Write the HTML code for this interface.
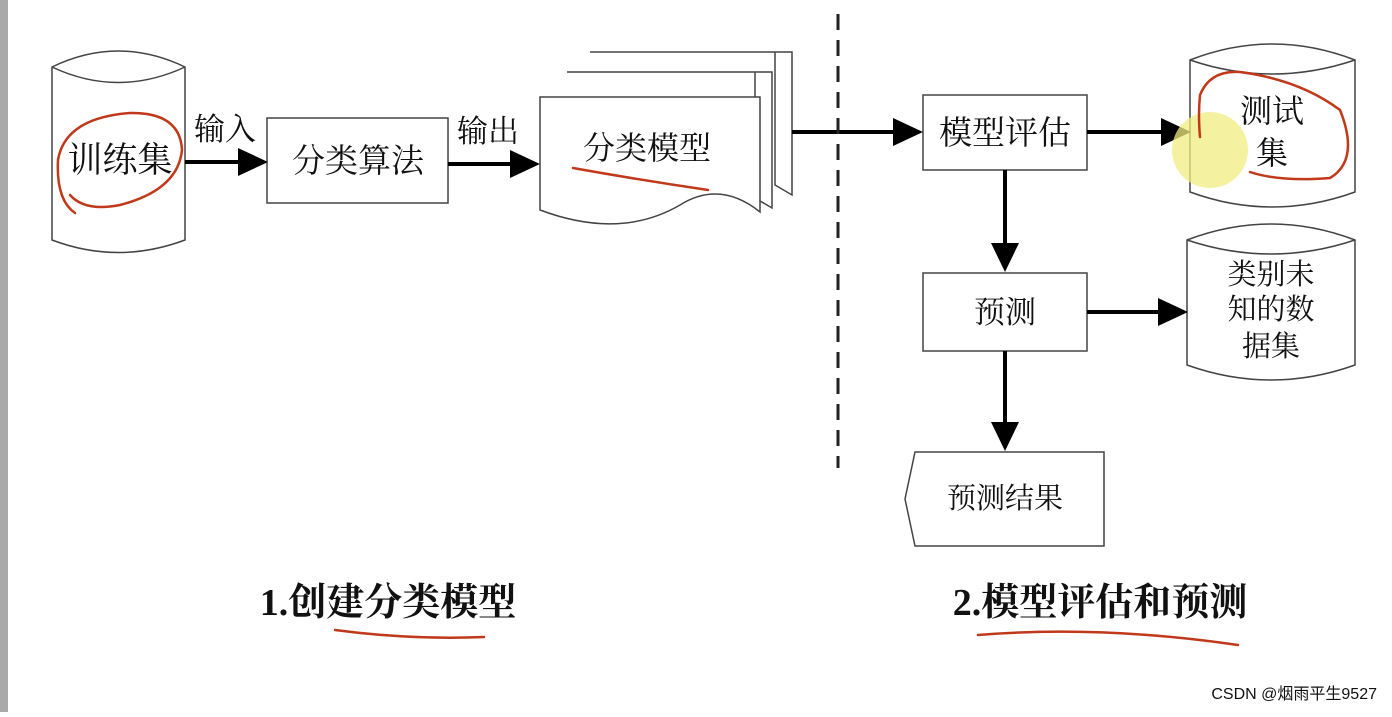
<!DOCTYPE html>
<html><head><meta charset="utf-8"><style>
body{margin:0;background:#fff}
svg text{font-family:"Liberation Serif","Noto Serif CJK SC",serif;fill:#111}
</style></head><body>
<svg width="1392" height="712" xmlns="http://www.w3.org/2000/svg">
<rect width="1392" height="712" fill="#fff"/>
<rect x="0" y="0" width="8" height="712" fill="#a9a9a9"/>
<g fill="#fff" stroke="#444" stroke-width="1.5">
<path d="M52,67 Q118,35 185,67 L185,240 Q118,265 52,240 Z"/>
<path d="M52,67 Q118,98 185,67" fill="none"/>
<rect x="267" y="118" width="181" height="85"/>
<path d="M590,52 H792 V195 L775,185 V52"/>
<path d="M567,72 H772 V208 L755,198 V72"/>
<path d="M540,97 H760 V212 Q720,180 680,205 Q620,240 540,210 Z"/>
<rect x="923" y="95" width="164" height="75"/>
<rect x="923" y="273" width="164" height="78"/>
<path d="M915,452 H1104 V546 H915 L905,499 Z"/>
<path d="M1190,60 Q1272,28 1355,60 L1355,192 Q1272,222 1190,192 Z"/>
<path d="M1190,60 Q1272,88 1355,60" fill="none"/>
<path d="M1187,240 Q1271,208 1355,240 L1355,365 Q1271,395 1187,365 Z"/>
<path d="M1187,240 Q1271,268 1355,240" fill="none"/>
</g>
<g stroke="#000" stroke-width="4" fill="none">
<path d="M185,162 H240"/><path d="M448,164 H512"/>
<path d="M792,132 H895"/><path d="M1087,132 H1163"/>
<path d="M1005,170 V245"/><path d="M1087,312 H1160"/><path d="M1005,351 V424"/>
</g>
<g fill="#000">
<path d="M238,148 L268,162 L238,176 Z"/><path d="M510,150 L540,164 L510,178 Z"/>
<path d="M893,118 L923,132 L893,146 Z"/><path d="M1161,118 L1191,132 L1161,146 Z"/>
<path d="M991,243 L1019,243 L1005,272 Z"/><path d="M1158,298 L1188,312 L1158,326 Z"/>
<path d="M991,422 L1019,422 L1005,451 Z"/>
</g>
<path d="M838,14 V468" stroke="#222" stroke-width="3" stroke-dasharray="16,10"/>
<circle cx="1210" cy="150" r="38" fill="#f0ee80" opacity="0.75"/>
<g text-anchor="middle">
<text x="120" y="172" font-size="35">训练集</text>
<text x="225" y="140" font-size="31">输入</text>
<text x="358" y="172" font-size="33">分类算法</text>
<text x="488" y="142" font-size="31">输出</text>
<text x="647" y="159" font-size="32">分类模型</text>
<text x="1005" y="144" font-size="33">模型评估</text>
<text x="1005" y="323" font-size="31">预测</text>
<text x="1005" y="508" font-size="29">预测结果</text>
<text x="1272" y="122" font-size="32">测试</text>
<text x="1272" y="164" font-size="32">集</text>
<text x="1271" y="284" font-size="29">类别未</text>
<text x="1271" y="319" font-size="29">知的数</text>
<text x="1271" y="356" font-size="29">据集</text>
<text x="388" y="615" font-size="38" font-weight="bold">1.创建分类模型</text>
<text x="1100" y="615" font-size="38" font-weight="bold">2.模型评估和预测</text>
</g>
<text x="1377" y="699" font-size="16" text-anchor="end" style="font-family:'Liberation Sans','Noto Sans CJK SC',sans-serif" fill="#666">CSDN @烟雨平生9527</text>
<g stroke="#c0391b" stroke-width="2.5" fill="none" stroke-linecap="round">
<path d="M70,195 Q85,212 120,205 Q178,190 182,150 Q180,112 130,113 Q65,118 58,160 Q56,200 75,213"/>
<path d="M573,168 Q640,180 708,190"/>
<path d="M1200,95 Q1210,70 1240,72 Q1300,80 1340,110 Q1360,160 1330,178 Q1280,182 1250,172 M1200,95 Q1198,115 1200,137"/>
<path d="M335,630 Q410,640 484,637"/>
<path d="M978,635 Q1100,625 1238,645"/>
</g>
</svg>
</body></html>
